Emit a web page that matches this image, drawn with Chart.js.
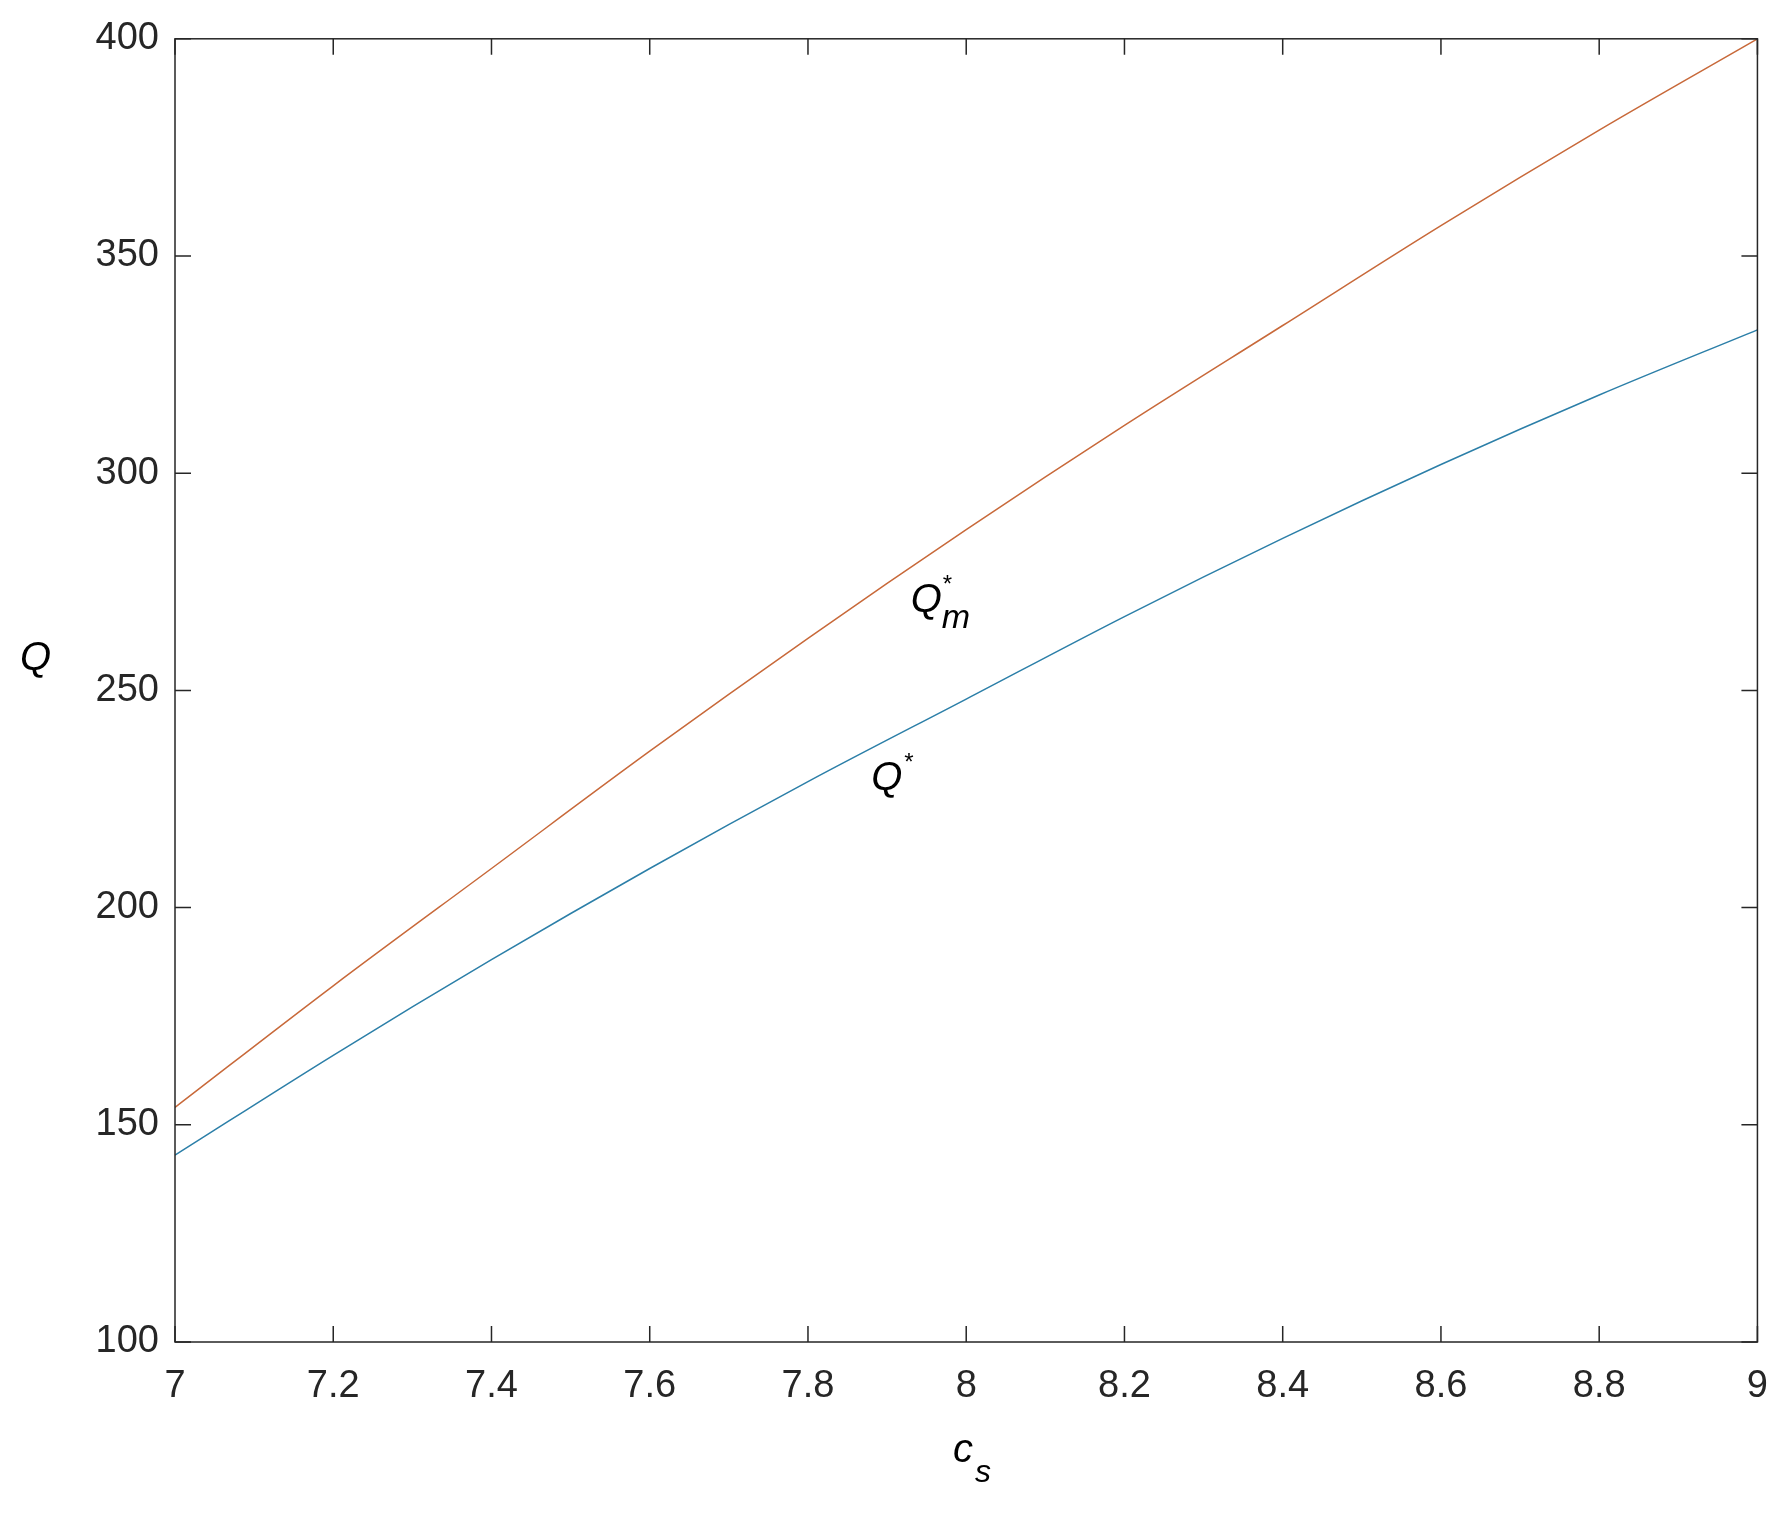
<!DOCTYPE html>
<html><head><meta charset="utf-8">
<script src="https://cdn.jsdelivr.net/npm/chart.js@4/dist/chart.umd.min.js"></script>
<style>html,body{margin:0;padding:0;background:#fff}#wrap{width:1790px;height:1514px}</style>
</head><body><div id="wrap"><canvas id="c"></canvas></div>
<script>
const cs = [7, 7.2, 7.4, 7.6, 7.8, 8, 8.2, 8.4, 8.6, 8.8, 9];
const qm = [154, 182, 209, 236, 262, 287, 311, 334, 357, 379, 400];
const q  = [143, 166, 188, 209, 229, 248, 267, 285, 302, 318, 333];
const xTicks = [7, 7.2, 7.4, 7.6, 7.8, 8, 8.2, 8.4, 8.6, 8.8, 9];
const yTicks = [100, 150, 200, 250, 300, 350, 400];
const FONT = '"Liberation Sans", Arial, sans-serif';

const deco = {
  id: 'deco',
  afterDraw(chart) {
    const ctx = chart.ctx, a = chart.chartArea, x = chart.scales.x, y = chart.scales.y;
    ctx.save();
    ctx.strokeStyle = '#262626'; ctx.lineWidth = 1.5;
    ctx.strokeRect(a.left, a.top, a.right - a.left, a.bottom - a.top);
    const L = 16;
    xTicks.forEach(v => { const p = x.getPixelForValue(v);
      ctx.beginPath(); ctx.moveTo(p, a.bottom); ctx.lineTo(p, a.bottom - L);
      ctx.moveTo(p, a.top); ctx.lineTo(p, a.top + L); ctx.stroke(); });
    yTicks.forEach(v => { const p = y.getPixelForValue(v);
      ctx.beginPath(); ctx.moveTo(a.left, p); ctx.lineTo(a.left + L, p);
      ctx.moveTo(a.right, p); ctx.lineTo(a.right - L, p); ctx.stroke(); });
    ctx.fillStyle = '#000';
    ctx.font = 'italic 40px ' + FONT;
    ctx.textAlign = 'left'; ctx.textBaseline = 'alphabetic';
    ctx.fillText('Q', 20, 670);
    ctx.fillText('c', 953, 1462);
    ctx.font = 'italic 32px ' + FONT; ctx.fillText('s', 975, 1482);
    ctx.font = 'italic 40px ' + FONT;
    let px = x.getPixelForValue(7.93), py = y.getPixelForValue(268);
    ctx.fillText('Q', px, py);
    ctx.font = 'italic 24px ' + FONT; ctx.fillText('*', px + 31, py - 20);
    ctx.font = 'italic 34px ' + FONT; ctx.fillText('m', px + 31, py + 16);
    ctx.font = 'italic 40px ' + FONT;
    px = x.getPixelForValue(7.88); py = y.getPixelForValue(227);
    ctx.fillText('Q', px, py);
    ctx.font = 'italic 24px ' + FONT; ctx.fillText('*', px + 32, py - 20);
    ctx.restore();
  }
};

new Chart(document.getElementById('c'), {
  type: 'line',
  data: { datasets: [
    { data: cs.map((v, i) => ({x: v, y: qm[i]})), borderColor: '#C8693A', borderWidth: 1.5, pointRadius: 0, cubicInterpolationMode: 'monotone', fill: false },
    { data: cs.map((v, i) => ({x: v, y: q[i]})), borderColor: '#2C7FA8', borderWidth: 1.5, pointRadius: 0, cubicInterpolationMode: 'monotone', fill: false }
  ]},
  options: {
    responsive: true, maintainAspectRatio: false, animation: false,
    layout: { padding: { left: 0, top: 34, right: 31, bottom: 0 } },
    plugins: { legend: { display: false }, tooltip: { enabled: false } },
    scales: {
      x: { type: 'linear', min: 7, max: 9,
        afterBuildTicks: s => { s.ticks = xTicks.map(v => ({value: v})); },
        afterFit: s => { s.height = 172; },
        grid: { display: false, drawTicks: false }, border: { display: false },
        ticks: { padding: 22, color: '#262626', font: { size: 38, family: FONT }, maxRotation: 0, callback: v => String(v) } },
      y: { min: 100, max: 400,
        afterBuildTicks: s => { s.ticks = yTicks.map(v => ({value: v})); },
        afterFit: s => { s.width = 175; },
        grid: { display: false, drawTicks: false }, border: { display: false },
        ticks: { padding: 16, color: '#262626', font: { size: 38, family: FONT } } }
    }
  },
  plugins: [deco]
});
</script></body></html>
